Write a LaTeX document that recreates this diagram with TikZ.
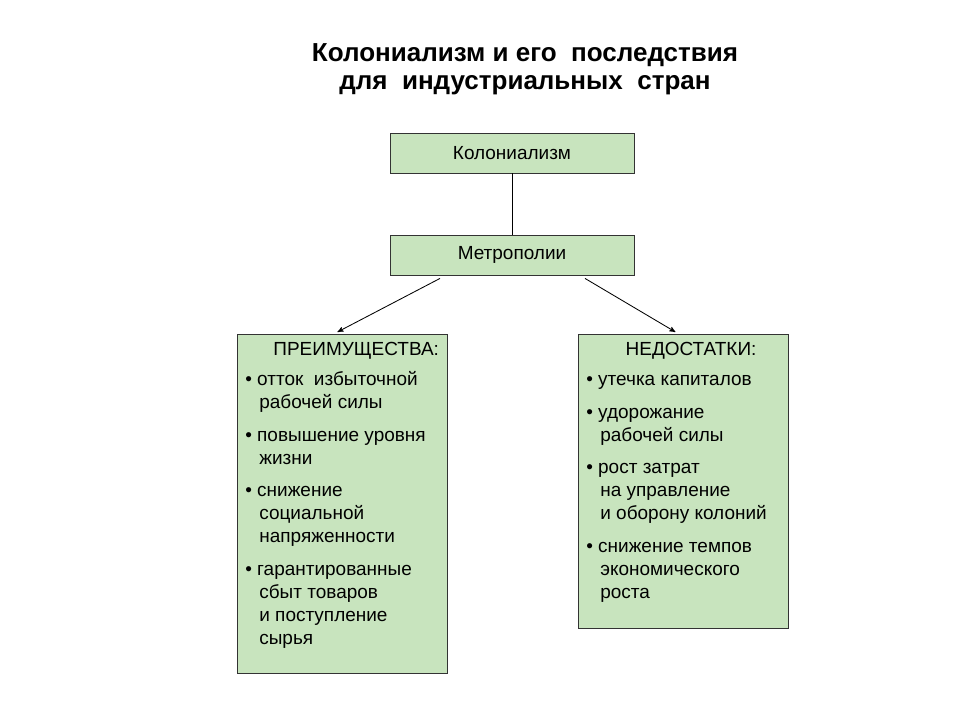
\documentclass[tikz,border=0pt]{standalone}
\usepackage{fontspec}
\setmainfont{Liberation Sans}
\usetikzlibrary{arrows, positioning, calc}
\definecolor{boxgreen}{RGB}{200,228,190}
\begin{document}
\begin{tikzpicture}[
		x=0.025cm, y=-0.025cm,
		>=stealth',
		inner sep=0pt,
		topbox/.style={
				rectangle,
				minimum width = 6.1cm,
				minimum height = 1cm,
				draw=black!80,
				fill=boxgreen,
				semithick,
				font=\fontsize{13.5}{15}\selectfont
			},
		listbox/.style={
				rectangle,
				minimum width = 5.25cm,
				draw=black!80,
				fill=boxgreen,
				semithick,
				anchor=north west
			},
		listtext/.style={
				align=left,
				anchor=north west,
				font=\fontsize{13.5}{16.3}\selectfont
			},
		]
		
		\useasboundingbox (0,0) rectangle (960,720);
		
		\node[font=\bfseries\fontsize{18.5}{20}\selectfont, align=center] (title) at (525,69) {Колониализм и его\ \ последствия\\для\ \ индустриальных\ \ стран};
		
		\node[topbox] (colonial) at (512,153) {Колониализм};
		
		\node[topbox] (metro) at (512,255) {Метрополии};
		
		\node[listbox, minimum height = 8.475cm] (pros) at (237,334) {};
		
		\node[listbox, minimum height = 7.35cm] (cons) at (578,334) {};
		
		\draw[semithick] (colonial) -- (metro);
		
		\draw[->, semithick] ($(metro.south)+(-72,3)$) -- ($(pros.north)+(-5,-2)$);
		
		\draw[->, semithick] ($(metro.south)+(73,3)$) -- ($(cons.north)+(-8,-2)$);
		
		\node[listtext] (prostext) at (245,342) {
			\hspace*{20pt}ПРЕИМУЩЕСТВА:\\[5pt]
			• отток\ \ избыточной\\
			\hspace*{10pt}рабочей силы\\[7pt]
			• повышение\ уровня\\
			\hspace*{10pt}жизни\\[7pt]
			• снижение\\
			\hspace*{10pt}социальной\\
			\hspace*{10pt}напряженности\\[7pt]
			• гарантированные\\
			\hspace*{10pt}сбыт товаров\\
			\hspace*{10pt}и поступление\\
			\hspace*{10pt}сырья};
		
		\node[listtext] (constext) at (586,342) {
			\hspace*{28pt}НЕДОСТАТКИ:\\[5pt]
			• утечка\ капиталов\\[7pt]
			• удорожание\\
			\hspace*{10pt}рабочей силы\\[7pt]
			• рост затрат\\
			\hspace*{10pt}на управление\\
			\hspace*{10pt}и оборону колоний\\[7pt]
			• снижение\ темпов\\
			\hspace*{10pt}экономического\\
			\hspace*{10pt}роста};
		
	\end{tikzpicture}
\end{document}
